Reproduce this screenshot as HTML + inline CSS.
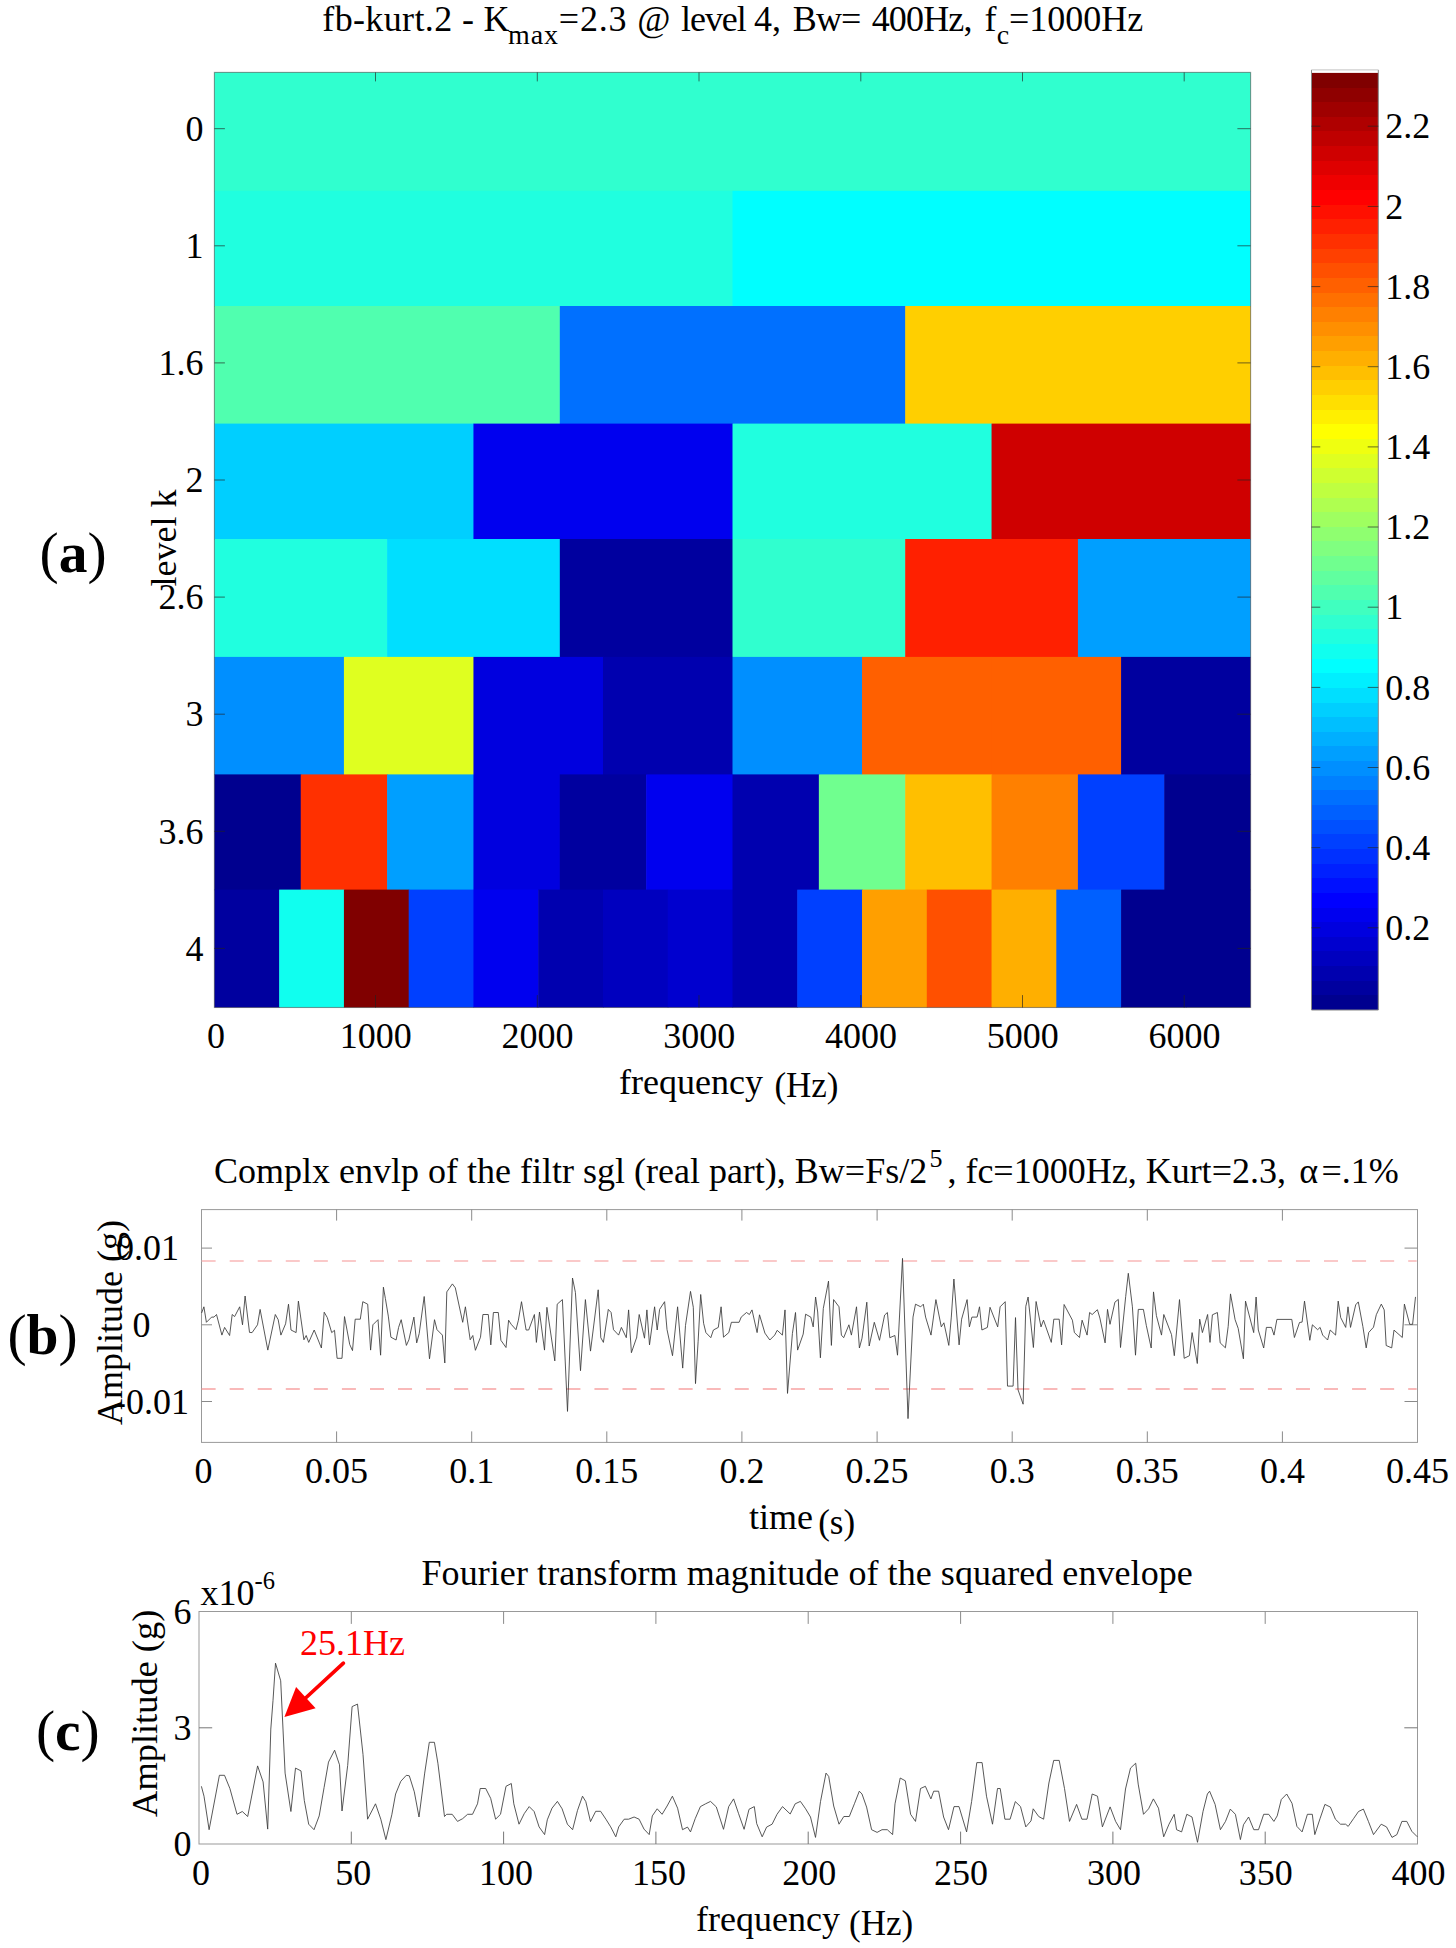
<!DOCTYPE html>
<html><head><meta charset="utf-8"><title>Fast kurtogram</title><style>html,body{margin:0;padding:0;background:#fff;}svg{display:block;}</style></head><body>
<svg width="1456" height="1948" viewBox="0 0 1456 1948" font-family="'Liberation Serif', serif">
<rect x="0" y="0" width="1456" height="1948" fill="#fff"/>
<rect x="214.40" y="72.40" width="1036.20" height="119.00" fill="#30ffcf"/>
<rect x="214.40" y="190.80" width="518.70" height="115.80" fill="#20ffdf"/>
<rect x="732.50" y="190.80" width="518.10" height="115.80" fill="#00ffff"/>
<rect x="214.40" y="306.00" width="346.00" height="118.20" fill="#50ffaf"/>
<rect x="559.80" y="306.00" width="346.00" height="118.20" fill="#0070ff"/>
<rect x="905.20" y="306.00" width="345.40" height="118.20" fill="#ffcf00"/>
<rect x="214.40" y="423.60" width="259.65" height="116.00" fill="#00cfff"/>
<rect x="473.45" y="423.60" width="259.65" height="116.00" fill="#0000ef"/>
<rect x="732.50" y="423.60" width="259.65" height="116.00" fill="#20ffdf"/>
<rect x="991.55" y="423.60" width="259.05" height="116.00" fill="#cf0000"/>
<rect x="214.40" y="539.00" width="173.30" height="118.50" fill="#20ffdf"/>
<rect x="387.10" y="539.00" width="173.30" height="118.50" fill="#00dfff"/>
<rect x="559.80" y="539.00" width="173.30" height="118.50" fill="#00009f"/>
<rect x="732.50" y="539.00" width="173.30" height="118.50" fill="#30ffcf"/>
<rect x="905.20" y="539.00" width="173.30" height="118.50" fill="#ff2000"/>
<rect x="1077.90" y="539.00" width="172.70" height="118.50" fill="#009fff"/>
<rect x="214.40" y="656.90" width="130.12" height="118.10" fill="#008fff"/>
<rect x="343.92" y="656.90" width="130.12" height="118.10" fill="#dfff20"/>
<rect x="473.45" y="656.90" width="130.12" height="118.10" fill="#0000df"/>
<rect x="602.97" y="656.90" width="130.12" height="118.10" fill="#0000af"/>
<rect x="732.50" y="656.90" width="130.12" height="118.10" fill="#008fff"/>
<rect x="862.02" y="656.90" width="130.12" height="118.10" fill="#ff6000"/>
<rect x="991.55" y="656.90" width="130.12" height="118.10" fill="#ff6000"/>
<rect x="1121.07" y="656.90" width="129.53" height="118.10" fill="#00009f"/>
<rect x="214.40" y="774.40" width="86.95" height="115.80" fill="#00008f"/>
<rect x="300.75" y="774.40" width="86.95" height="115.80" fill="#ff3000"/>
<rect x="387.10" y="774.40" width="86.95" height="115.80" fill="#009fff"/>
<rect x="473.45" y="774.40" width="86.95" height="115.80" fill="#0000df"/>
<rect x="559.80" y="774.40" width="86.95" height="115.80" fill="#00009f"/>
<rect x="646.15" y="774.40" width="86.95" height="115.80" fill="#0000ef"/>
<rect x="732.50" y="774.40" width="86.95" height="115.80" fill="#0000af"/>
<rect x="818.85" y="774.40" width="86.95" height="115.80" fill="#70ff8f"/>
<rect x="905.20" y="774.40" width="86.95" height="115.80" fill="#ffbf00"/>
<rect x="991.55" y="774.40" width="86.95" height="115.80" fill="#ff8000"/>
<rect x="1077.90" y="774.40" width="86.95" height="115.80" fill="#0040ff"/>
<rect x="1164.25" y="774.40" width="86.35" height="115.80" fill="#00008f"/>
<rect x="214.40" y="889.60" width="65.36" height="117.90" fill="#00009f"/>
<rect x="279.16" y="889.60" width="65.36" height="117.90" fill="#10ffef"/>
<rect x="343.92" y="889.60" width="65.36" height="117.90" fill="#800000"/>
<rect x="408.69" y="889.60" width="65.36" height="117.90" fill="#0040ff"/>
<rect x="473.45" y="889.60" width="65.36" height="117.90" fill="#0000ef"/>
<rect x="538.21" y="889.60" width="65.36" height="117.90" fill="#0000af"/>
<rect x="602.97" y="889.60" width="65.36" height="117.90" fill="#0000bf"/>
<rect x="667.74" y="889.60" width="65.36" height="117.90" fill="#0000cf"/>
<rect x="732.50" y="889.60" width="65.36" height="117.90" fill="#0000af"/>
<rect x="797.26" y="889.60" width="65.36" height="117.90" fill="#0040ff"/>
<rect x="862.02" y="889.60" width="65.36" height="117.90" fill="#ff9f00"/>
<rect x="926.79" y="889.60" width="65.36" height="117.90" fill="#ff5000"/>
<rect x="991.55" y="889.60" width="65.36" height="117.90" fill="#ffaf00"/>
<rect x="1056.31" y="889.60" width="65.36" height="117.90" fill="#0060ff"/>
<rect x="1121.07" y="889.60" width="65.36" height="117.90" fill="#00008f"/>
<rect x="1185.84" y="889.60" width="64.76" height="117.90" fill="#00008f"/>
<rect x="214.4" y="72.4" width="1036.2" height="935.1" fill="none" stroke="#333" stroke-opacity="0.5" stroke-width="1.1"/>
<line x1="214.4" y1="128.7" x2="224.9" y2="128.7" stroke="#222" stroke-opacity="0.65" stroke-width="1"/>
<line x1="1250.6" y1="128.7" x2="1237.3999999999999" y2="128.7" stroke="#222" stroke-opacity="0.65" stroke-width="1"/>
<text x="203.5" y="140.9" font-size="36" text-anchor="end">0</text>
<line x1="214.4" y1="245.8" x2="224.9" y2="245.8" stroke="#222" stroke-opacity="0.65" stroke-width="1"/>
<line x1="1250.6" y1="245.8" x2="1237.3999999999999" y2="245.8" stroke="#222" stroke-opacity="0.65" stroke-width="1"/>
<text x="203.5" y="258.0" font-size="36" text-anchor="end">1</text>
<line x1="214.4" y1="362.9" x2="224.9" y2="362.9" stroke="#222" stroke-opacity="0.65" stroke-width="1"/>
<line x1="1250.6" y1="362.9" x2="1237.3999999999999" y2="362.9" stroke="#222" stroke-opacity="0.65" stroke-width="1"/>
<text x="203.5" y="375.1" font-size="36" text-anchor="end">1.6</text>
<line x1="214.4" y1="480.0" x2="224.9" y2="480.0" stroke="#222" stroke-opacity="0.65" stroke-width="1"/>
<line x1="1250.6" y1="480.0" x2="1237.3999999999999" y2="480.0" stroke="#222" stroke-opacity="0.65" stroke-width="1"/>
<text x="203.5" y="492.2" font-size="36" text-anchor="end">2</text>
<line x1="214.4" y1="597.1" x2="224.9" y2="597.1" stroke="#222" stroke-opacity="0.65" stroke-width="1"/>
<line x1="1250.6" y1="597.1" x2="1237.3999999999999" y2="597.1" stroke="#222" stroke-opacity="0.65" stroke-width="1"/>
<text x="203.5" y="609.3" font-size="36" text-anchor="end">2.6</text>
<line x1="214.4" y1="714.2" x2="224.9" y2="714.2" stroke="#222" stroke-opacity="0.65" stroke-width="1"/>
<line x1="1250.6" y1="714.2" x2="1237.3999999999999" y2="714.2" stroke="#222" stroke-opacity="0.65" stroke-width="1"/>
<text x="203.5" y="726.4" font-size="36" text-anchor="end">3</text>
<line x1="214.4" y1="831.3" x2="224.9" y2="831.3" stroke="#222" stroke-opacity="0.65" stroke-width="1"/>
<line x1="1250.6" y1="831.3" x2="1237.3999999999999" y2="831.3" stroke="#222" stroke-opacity="0.65" stroke-width="1"/>
<text x="203.5" y="843.5" font-size="36" text-anchor="end">3.6</text>
<line x1="214.4" y1="948.4" x2="224.9" y2="948.4" stroke="#222" stroke-opacity="0.65" stroke-width="1"/>
<line x1="1250.6" y1="948.4" x2="1237.3999999999999" y2="948.4" stroke="#222" stroke-opacity="0.65" stroke-width="1"/>
<text x="203.5" y="960.6" font-size="36" text-anchor="end">4</text>
<text x="215.9" y="1047.5" font-size="36" text-anchor="middle">0</text>
<line x1="375.5" y1="72.4" x2="375.5" y2="81.4" stroke="#222" stroke-opacity="0.65" stroke-width="1"/>
<line x1="375.5" y1="1007.5" x2="375.5" y2="995.1" stroke="#222" stroke-opacity="0.65" stroke-width="1"/>
<text x="375.8" y="1047.5" font-size="36" text-anchor="middle">1000</text>
<line x1="537.3" y1="72.4" x2="537.3" y2="81.4" stroke="#222" stroke-opacity="0.65" stroke-width="1"/>
<line x1="537.3" y1="1007.5" x2="537.3" y2="995.1" stroke="#222" stroke-opacity="0.65" stroke-width="1"/>
<text x="537.6" y="1047.5" font-size="36" text-anchor="middle">2000</text>
<line x1="699.0" y1="72.4" x2="699.0" y2="81.4" stroke="#222" stroke-opacity="0.65" stroke-width="1"/>
<line x1="699.0" y1="1007.5" x2="699.0" y2="995.1" stroke="#222" stroke-opacity="0.65" stroke-width="1"/>
<text x="699.3" y="1047.5" font-size="36" text-anchor="middle">3000</text>
<line x1="860.8" y1="72.4" x2="860.8" y2="81.4" stroke="#222" stroke-opacity="0.65" stroke-width="1"/>
<line x1="860.8" y1="1007.5" x2="860.8" y2="995.1" stroke="#222" stroke-opacity="0.65" stroke-width="1"/>
<text x="861.1" y="1047.5" font-size="36" text-anchor="middle">4000</text>
<line x1="1022.5" y1="72.4" x2="1022.5" y2="81.4" stroke="#222" stroke-opacity="0.65" stroke-width="1"/>
<line x1="1022.5" y1="1007.5" x2="1022.5" y2="995.1" stroke="#222" stroke-opacity="0.65" stroke-width="1"/>
<text x="1022.8" y="1047.5" font-size="36" text-anchor="middle">5000</text>
<line x1="1184.2" y1="72.4" x2="1184.2" y2="81.4" stroke="#222" stroke-opacity="0.65" stroke-width="1"/>
<line x1="1184.2" y1="1007.5" x2="1184.2" y2="995.1" stroke="#222" stroke-opacity="0.65" stroke-width="1"/>
<text x="1184.5" y="1047.5" font-size="36" text-anchor="middle">6000</text>
<text x="619" y="1093.8" font-size="36">frequency</text><text x="774.4" y="1096.8" font-size="35">(Hz)</text>
<text transform="translate(176.4,538) rotate(-90)" font-size="36" text-anchor="middle">level k</text>
<text x="322.3" y="30.8" font-size="36" textLength="187.3" lengthAdjust="spacing">fb-kurt.2 - K</text>
<text x="508.1" y="44" font-size="28" textLength="50" lengthAdjust="spacing">max</text>
<text x="558.8" y="30.8" font-size="36" textLength="111.5" lengthAdjust="spacing">=2.3 @</text>
<text x="681" y="30.8" font-size="36" textLength="65.8" lengthAdjust="spacing">level</text>
<text x="753.9" y="30.8" font-size="36">4,</text>
<text x="792.8" y="30.8" font-size="36" textLength="68.5" lengthAdjust="spacing">Bw=</text>
<text x="871.7" y="30.8" font-size="36" textLength="100.8" lengthAdjust="spacing">400Hz,</text>
<text x="984.4" y="30.8" font-size="36">f</text>
<text x="996.8" y="44" font-size="28">c</text>
<text x="1008.9" y="30.8" font-size="36">=1000Hz</text>
<text x="39.5" y="572.2" font-size="57.5"><tspan>(</tspan><tspan font-weight="bold">a</tspan><tspan>)</tspan></text>
<defs><linearGradient id="cbar" x1="0" y1="0" x2="0" y2="1"><stop offset="0.0000%" stop-color="#800000"/><stop offset="1.5625%" stop-color="#800000"/><stop offset="1.5625%" stop-color="#8f0000"/><stop offset="3.1250%" stop-color="#8f0000"/><stop offset="3.1250%" stop-color="#9f0000"/><stop offset="4.6875%" stop-color="#9f0000"/><stop offset="4.6875%" stop-color="#af0000"/><stop offset="6.2500%" stop-color="#af0000"/><stop offset="6.2500%" stop-color="#bf0000"/><stop offset="7.8125%" stop-color="#bf0000"/><stop offset="7.8125%" stop-color="#cf0000"/><stop offset="9.3750%" stop-color="#cf0000"/><stop offset="9.3750%" stop-color="#df0000"/><stop offset="10.9375%" stop-color="#df0000"/><stop offset="10.9375%" stop-color="#ef0000"/><stop offset="12.5000%" stop-color="#ef0000"/><stop offset="12.5000%" stop-color="#ff0000"/><stop offset="14.0625%" stop-color="#ff0000"/><stop offset="14.0625%" stop-color="#ff1000"/><stop offset="15.6250%" stop-color="#ff1000"/><stop offset="15.6250%" stop-color="#ff2000"/><stop offset="17.1875%" stop-color="#ff2000"/><stop offset="17.1875%" stop-color="#ff3000"/><stop offset="18.7500%" stop-color="#ff3000"/><stop offset="18.7500%" stop-color="#ff4000"/><stop offset="20.3125%" stop-color="#ff4000"/><stop offset="20.3125%" stop-color="#ff5000"/><stop offset="21.8750%" stop-color="#ff5000"/><stop offset="21.8750%" stop-color="#ff6000"/><stop offset="23.4375%" stop-color="#ff6000"/><stop offset="23.4375%" stop-color="#ff7000"/><stop offset="25.0000%" stop-color="#ff7000"/><stop offset="25.0000%" stop-color="#ff8000"/><stop offset="26.5625%" stop-color="#ff8000"/><stop offset="26.5625%" stop-color="#ff8f00"/><stop offset="28.1250%" stop-color="#ff8f00"/><stop offset="28.1250%" stop-color="#ff9f00"/><stop offset="29.6875%" stop-color="#ff9f00"/><stop offset="29.6875%" stop-color="#ffaf00"/><stop offset="31.2500%" stop-color="#ffaf00"/><stop offset="31.2500%" stop-color="#ffbf00"/><stop offset="32.8125%" stop-color="#ffbf00"/><stop offset="32.8125%" stop-color="#ffcf00"/><stop offset="34.3750%" stop-color="#ffcf00"/><stop offset="34.3750%" stop-color="#ffdf00"/><stop offset="35.9375%" stop-color="#ffdf00"/><stop offset="35.9375%" stop-color="#ffef00"/><stop offset="37.5000%" stop-color="#ffef00"/><stop offset="37.5000%" stop-color="#ffff00"/><stop offset="39.0625%" stop-color="#ffff00"/><stop offset="39.0625%" stop-color="#efff10"/><stop offset="40.6250%" stop-color="#efff10"/><stop offset="40.6250%" stop-color="#dfff20"/><stop offset="42.1875%" stop-color="#dfff20"/><stop offset="42.1875%" stop-color="#cfff30"/><stop offset="43.7500%" stop-color="#cfff30"/><stop offset="43.7500%" stop-color="#bfff40"/><stop offset="45.3125%" stop-color="#bfff40"/><stop offset="45.3125%" stop-color="#afff50"/><stop offset="46.8750%" stop-color="#afff50"/><stop offset="46.8750%" stop-color="#9fff60"/><stop offset="48.4375%" stop-color="#9fff60"/><stop offset="48.4375%" stop-color="#8fff70"/><stop offset="50.0000%" stop-color="#8fff70"/><stop offset="50.0000%" stop-color="#80ff80"/><stop offset="51.5625%" stop-color="#80ff80"/><stop offset="51.5625%" stop-color="#70ff8f"/><stop offset="53.1250%" stop-color="#70ff8f"/><stop offset="53.1250%" stop-color="#60ff9f"/><stop offset="54.6875%" stop-color="#60ff9f"/><stop offset="54.6875%" stop-color="#50ffaf"/><stop offset="56.2500%" stop-color="#50ffaf"/><stop offset="56.2500%" stop-color="#40ffbf"/><stop offset="57.8125%" stop-color="#40ffbf"/><stop offset="57.8125%" stop-color="#30ffcf"/><stop offset="59.3750%" stop-color="#30ffcf"/><stop offset="59.3750%" stop-color="#20ffdf"/><stop offset="60.9375%" stop-color="#20ffdf"/><stop offset="60.9375%" stop-color="#10ffef"/><stop offset="62.5000%" stop-color="#10ffef"/><stop offset="62.5000%" stop-color="#00ffff"/><stop offset="64.0625%" stop-color="#00ffff"/><stop offset="64.0625%" stop-color="#00efff"/><stop offset="65.6250%" stop-color="#00efff"/><stop offset="65.6250%" stop-color="#00dfff"/><stop offset="67.1875%" stop-color="#00dfff"/><stop offset="67.1875%" stop-color="#00cfff"/><stop offset="68.7500%" stop-color="#00cfff"/><stop offset="68.7500%" stop-color="#00bfff"/><stop offset="70.3125%" stop-color="#00bfff"/><stop offset="70.3125%" stop-color="#00afff"/><stop offset="71.8750%" stop-color="#00afff"/><stop offset="71.8750%" stop-color="#009fff"/><stop offset="73.4375%" stop-color="#009fff"/><stop offset="73.4375%" stop-color="#008fff"/><stop offset="75.0000%" stop-color="#008fff"/><stop offset="75.0000%" stop-color="#0080ff"/><stop offset="76.5625%" stop-color="#0080ff"/><stop offset="76.5625%" stop-color="#0070ff"/><stop offset="78.1250%" stop-color="#0070ff"/><stop offset="78.1250%" stop-color="#0060ff"/><stop offset="79.6875%" stop-color="#0060ff"/><stop offset="79.6875%" stop-color="#0050ff"/><stop offset="81.2500%" stop-color="#0050ff"/><stop offset="81.2500%" stop-color="#0040ff"/><stop offset="82.8125%" stop-color="#0040ff"/><stop offset="82.8125%" stop-color="#0030ff"/><stop offset="84.3750%" stop-color="#0030ff"/><stop offset="84.3750%" stop-color="#0020ff"/><stop offset="85.9375%" stop-color="#0020ff"/><stop offset="85.9375%" stop-color="#0010ff"/><stop offset="87.5000%" stop-color="#0010ff"/><stop offset="87.5000%" stop-color="#0000ff"/><stop offset="89.0625%" stop-color="#0000ff"/><stop offset="89.0625%" stop-color="#0000ef"/><stop offset="90.6250%" stop-color="#0000ef"/><stop offset="90.6250%" stop-color="#0000df"/><stop offset="92.1875%" stop-color="#0000df"/><stop offset="92.1875%" stop-color="#0000cf"/><stop offset="93.7500%" stop-color="#0000cf"/><stop offset="93.7500%" stop-color="#0000bf"/><stop offset="95.3125%" stop-color="#0000bf"/><stop offset="95.3125%" stop-color="#0000af"/><stop offset="96.8750%" stop-color="#0000af"/><stop offset="96.8750%" stop-color="#00009f"/><stop offset="98.4375%" stop-color="#00009f"/><stop offset="98.4375%" stop-color="#00008f"/><stop offset="100.0000%" stop-color="#00008f"/></linearGradient></defs>
<rect x="1311.5" y="72.90" width="66.8" height="937.10" fill="url(#cbar)"/>
<path d="M1311.5,69.9 V1010.0 H1378.3 V69.9" fill="none" stroke="#888" stroke-width="1"/>
<line x1="1311.5" y1="69.9" x2="1378.3" y2="69.9" stroke="#c4c4c4" stroke-width="1"/>
<line x1="1311.5" y1="927.8" x2="1320.3" y2="927.8" stroke="#222" stroke-opacity="0.65" stroke-width="1"/>
<line x1="1378.3" y1="927.8" x2="1367.7" y2="927.8" stroke="#222" stroke-opacity="0.65" stroke-width="1"/>
<text x="1385.2" y="940.0" font-size="36">0.2</text>
<line x1="1311.5" y1="847.7" x2="1320.3" y2="847.7" stroke="#222" stroke-opacity="0.65" stroke-width="1"/>
<line x1="1378.3" y1="847.7" x2="1367.7" y2="847.7" stroke="#222" stroke-opacity="0.65" stroke-width="1"/>
<text x="1385.2" y="859.9" font-size="36">0.4</text>
<line x1="1311.5" y1="767.5" x2="1320.3" y2="767.5" stroke="#222" stroke-opacity="0.65" stroke-width="1"/>
<line x1="1378.3" y1="767.5" x2="1367.7" y2="767.5" stroke="#222" stroke-opacity="0.65" stroke-width="1"/>
<text x="1385.2" y="779.7" font-size="36">0.6</text>
<line x1="1311.5" y1="687.4" x2="1320.3" y2="687.4" stroke="#222" stroke-opacity="0.65" stroke-width="1"/>
<line x1="1378.3" y1="687.4" x2="1367.7" y2="687.4" stroke="#222" stroke-opacity="0.65" stroke-width="1"/>
<text x="1385.2" y="699.6" font-size="36">0.8</text>
<line x1="1311.5" y1="607.2" x2="1320.3" y2="607.2" stroke="#222" stroke-opacity="0.65" stroke-width="1"/>
<line x1="1378.3" y1="607.2" x2="1367.7" y2="607.2" stroke="#222" stroke-opacity="0.65" stroke-width="1"/>
<text x="1385.2" y="619.4" font-size="36">1</text>
<line x1="1311.5" y1="527.0" x2="1320.3" y2="527.0" stroke="#222" stroke-opacity="0.65" stroke-width="1"/>
<line x1="1378.3" y1="527.0" x2="1367.7" y2="527.0" stroke="#222" stroke-opacity="0.65" stroke-width="1"/>
<text x="1385.2" y="539.2" font-size="36">1.2</text>
<line x1="1311.5" y1="446.9" x2="1320.3" y2="446.9" stroke="#222" stroke-opacity="0.65" stroke-width="1"/>
<line x1="1378.3" y1="446.9" x2="1367.7" y2="446.9" stroke="#222" stroke-opacity="0.65" stroke-width="1"/>
<text x="1385.2" y="459.1" font-size="36">1.4</text>
<line x1="1311.5" y1="366.7" x2="1320.3" y2="366.7" stroke="#222" stroke-opacity="0.65" stroke-width="1"/>
<line x1="1378.3" y1="366.7" x2="1367.7" y2="366.7" stroke="#222" stroke-opacity="0.65" stroke-width="1"/>
<text x="1385.2" y="378.9" font-size="36">1.6</text>
<line x1="1311.5" y1="286.6" x2="1320.3" y2="286.6" stroke="#222" stroke-opacity="0.65" stroke-width="1"/>
<line x1="1378.3" y1="286.6" x2="1367.7" y2="286.6" stroke="#222" stroke-opacity="0.65" stroke-width="1"/>
<text x="1385.2" y="298.8" font-size="36">1.8</text>
<line x1="1311.5" y1="206.4" x2="1320.3" y2="206.4" stroke="#222" stroke-opacity="0.65" stroke-width="1"/>
<line x1="1378.3" y1="206.4" x2="1367.7" y2="206.4" stroke="#222" stroke-opacity="0.65" stroke-width="1"/>
<text x="1385.2" y="218.6" font-size="36">2</text>
<line x1="1311.5" y1="126.2" x2="1320.3" y2="126.2" stroke="#222" stroke-opacity="0.65" stroke-width="1"/>
<line x1="1378.3" y1="126.2" x2="1367.7" y2="126.2" stroke="#222" stroke-opacity="0.65" stroke-width="1"/>
<text x="1385.2" y="138.4" font-size="36">2.2</text>
<rect x="201.5" y="1209.6" width="1216.0" height="232.80000000000018" fill="none" stroke="#999" stroke-width="1"/>
<line x1="336.6" y1="1209.6" x2="336.6" y2="1220.6" stroke="#8a8a8a" stroke-width="1"/>
<line x1="336.6" y1="1442.4" x2="336.6" y2="1431.4" stroke="#8a8a8a" stroke-width="1"/>
<line x1="471.7" y1="1209.6" x2="471.7" y2="1220.6" stroke="#8a8a8a" stroke-width="1"/>
<line x1="471.7" y1="1442.4" x2="471.7" y2="1431.4" stroke="#8a8a8a" stroke-width="1"/>
<line x1="606.8" y1="1209.6" x2="606.8" y2="1220.6" stroke="#8a8a8a" stroke-width="1"/>
<line x1="606.8" y1="1442.4" x2="606.8" y2="1431.4" stroke="#8a8a8a" stroke-width="1"/>
<line x1="741.9" y1="1209.6" x2="741.9" y2="1220.6" stroke="#8a8a8a" stroke-width="1"/>
<line x1="741.9" y1="1442.4" x2="741.9" y2="1431.4" stroke="#8a8a8a" stroke-width="1"/>
<line x1="877.1" y1="1209.6" x2="877.1" y2="1220.6" stroke="#8a8a8a" stroke-width="1"/>
<line x1="877.1" y1="1442.4" x2="877.1" y2="1431.4" stroke="#8a8a8a" stroke-width="1"/>
<line x1="1012.2" y1="1209.6" x2="1012.2" y2="1220.6" stroke="#8a8a8a" stroke-width="1"/>
<line x1="1012.2" y1="1442.4" x2="1012.2" y2="1431.4" stroke="#8a8a8a" stroke-width="1"/>
<line x1="1147.3" y1="1209.6" x2="1147.3" y2="1220.6" stroke="#8a8a8a" stroke-width="1"/>
<line x1="1147.3" y1="1442.4" x2="1147.3" y2="1431.4" stroke="#8a8a8a" stroke-width="1"/>
<line x1="1282.4" y1="1209.6" x2="1282.4" y2="1220.6" stroke="#8a8a8a" stroke-width="1"/>
<line x1="1282.4" y1="1442.4" x2="1282.4" y2="1431.4" stroke="#8a8a8a" stroke-width="1"/>
<line x1="201.5" y1="1248.1" x2="212.0" y2="1248.1" stroke="#8a8a8a" stroke-width="1"/>
<line x1="1417.5" y1="1248.1" x2="1404.5" y2="1248.1" stroke="#8a8a8a" stroke-width="1"/>
<line x1="201.5" y1="1324.8" x2="212.0" y2="1324.8" stroke="#8a8a8a" stroke-width="1"/>
<line x1="1417.5" y1="1324.8" x2="1404.5" y2="1324.8" stroke="#8a8a8a" stroke-width="1"/>
<line x1="201.5" y1="1401.5" x2="212.0" y2="1401.5" stroke="#8a8a8a" stroke-width="1"/>
<line x1="1417.5" y1="1401.5" x2="1404.5" y2="1401.5" stroke="#8a8a8a" stroke-width="1"/>
<line x1="201.6" y1="1261.0" x2="1416.7" y2="1261.0" stroke="#f9b8b8" stroke-width="1.3" stroke-dasharray="14.03 14.03"/>
<line x1="201.6" y1="1389.0" x2="1416.7" y2="1389.0" stroke="#f7a2a2" stroke-width="1.3" stroke-dasharray="14.03 14.03"/>
<text x="203.5" y="1483" font-size="36" text-anchor="middle">0</text>
<text x="336.6" y="1483" font-size="36" text-anchor="middle">0.05</text>
<text x="471.7" y="1483" font-size="36" text-anchor="middle">0.1</text>
<text x="606.8" y="1483" font-size="36" text-anchor="middle">0.15</text>
<text x="741.9" y="1483" font-size="36" text-anchor="middle">0.2</text>
<text x="877.1" y="1483" font-size="36" text-anchor="middle">0.25</text>
<text x="1012.2" y="1483" font-size="36" text-anchor="middle">0.3</text>
<text x="1147.3" y="1483" font-size="36" text-anchor="middle">0.35</text>
<text x="1282.4" y="1483" font-size="36" text-anchor="middle">0.4</text>
<text x="1417.5" y="1483" font-size="36" text-anchor="middle">0.45</text>
<text x="179" y="1260.2" font-size="36" text-anchor="end">0.01</text>
<text x="150.5" y="1337" font-size="36" text-anchor="end">0</text>
<text x="189" y="1413.8" font-size="36" text-anchor="end">-0.01</text>
<text transform="translate(122,1322.4) rotate(-90)" font-size="36" text-anchor="middle">Amplitude (g)</text>
<text x="749" y="1528.9" font-size="36">time</text><text x="818.2" y="1533.8" font-size="35">(s)</text>
<text y="1182.6" font-size="36"><tspan x="214">Complx envlp of the filtr sgl (real part), Bw=Fs/2</tspan><tspan x="929.6" font-size="26" dy="-15.3">5</tspan><tspan x="947.4" dy="15.3">, fc=1000Hz, Kurt=2.3,</tspan><tspan x="1299.2">α</tspan><tspan x="1321.5">=.1%</tspan></text>
<text x="7.4" y="1353.9" font-size="57.5"><tspan>(</tspan><tspan font-weight="bold">b</tspan><tspan>)</tspan></text>
<polyline points="201.6,1313.0 203.9,1306.8 206.4,1322.3 211.6,1317.1 214.0,1317.1 216.5,1314.5 221.9,1335.1 224.6,1327.4 229.6,1335.5 232.2,1314.5 234.6,1316.6 239.7,1306.8 242.5,1324.8 245.1,1296.0 249.5,1332.4 252.1,1332.6 257.5,1324.8 260.1,1309.4 267.8,1350.1 275.3,1314.5 278.2,1319.7 280.9,1335.1 285.6,1323.8 288.5,1304.2 291.0,1330.0 296.1,1332.6 298.4,1301.1 303.9,1339.8 306.2,1335.5 308.7,1342.4 314.2,1330.0 321.4,1348.0 324.2,1312.2 327.3,1317.6 331.7,1332.6 334.5,1330.3 337.1,1358.3 342.0,1358.3 344.5,1316.6 349.7,1344.4 352.5,1350.6 355.2,1319.2 360.3,1319.2 362.8,1301.7 367.7,1304.2 370.6,1350.1 372.9,1324.8 378.0,1319.7 380.6,1355.2 383.4,1287.2 385.4,1298.6 388.3,1316.1 390.9,1337.2 396.1,1340.0 398.6,1327.4 401.2,1319.7 406.4,1345.4 408.9,1339.8 413.9,1317.1 416.7,1342.9 419.2,1333.6 424.2,1296.5 429.5,1358.8 434.5,1319.7 437.0,1329.7 442.4,1335.1 444.8,1363.0 446.8,1291.9 452.4,1283.9 455.3,1287.8 462.7,1322.3 465.4,1306.8 470.2,1339.8 472.8,1335.5 475.4,1350.3 480.5,1337.2 482.9,1314.5 488.3,1314.5 490.8,1344.9 493.4,1312.5 498.3,1312.5 500.9,1340.3 506.0,1347.5 508.6,1320.2 511.2,1324.3 516.0,1329.7 518.4,1320.2 521.5,1301.7 526.1,1330.0 528.7,1330.0 534.4,1314.5 536.4,1342.4 539.5,1312.0 544.5,1350.1 546.9,1307.3 554.8,1360.9 557.2,1304.2 562.4,1299.6 567.5,1411.4 572.5,1278.0 575.4,1292.4 580.5,1370.7 585.4,1299.6 590.5,1351.1 598.2,1289.8 600.8,1337.7 603.4,1342.4 608.3,1309.4 611.1,1312.5 613.5,1329.7 618.6,1335.1 621.4,1327.4 626.3,1337.7 628.6,1309.9 631.4,1352.7 636.4,1338.2 636.6,1338.2 639.2,1314.5 644.5,1338.2 646.9,1309.9 649.5,1344.9 654.6,1306.8 657.2,1330.0 659.6,1309.4 664.6,1301.7 667.0,1329.5 672.5,1355.7 677.6,1306.8 682.7,1368.1 685.5,1325.4 690.5,1291.4 693.3,1307.3 695.5,1383.6 698.1,1341.8 700.7,1294.5 703.6,1323.3 705.9,1332.6 710.8,1337.7 713.4,1330.0 718.3,1327.4 721.1,1306.8 723.5,1337.2 728.8,1332.6 731.4,1322.3 739.1,1322.3 741.2,1317.1 746.5,1312.5 749.4,1314.5 752.0,1309.9 757.1,1332.6 759.5,1314.8 764.9,1333.1 769.8,1340.0 774.7,1335.1 777.2,1330.3 782.4,1335.1 785.0,1309.9 787.5,1393.4 792.4,1333.6 795.5,1312.5 797.6,1350.1 803.2,1334.1 805.6,1314.2 810.8,1317.1 813.2,1326.9 815.6,1297.0 817.7,1312.0 820.4,1357.8 823.3,1308.4 828.5,1281.1 831.4,1345.4 833.6,1299.6 839.0,1306.8 841.4,1335.1 843.7,1337.7 848.9,1324.8 851.4,1335.1 856.5,1306.8 859.4,1348.0 862.0,1338.2 866.8,1302.2 869.2,1346.0 874.3,1322.3 879.5,1340.3 884.6,1315.1 887.4,1312.5 889.8,1337.7 894.9,1335.5 897.5,1355.2 902.5,1258.4 908.0,1418.6 913.0,1317.1 915.5,1304.2 920.7,1306.8 923.3,1304.2 925.6,1317.1 931.0,1335.1 935.9,1299.6 941.3,1326.9 943.9,1322.8 948.8,1345.4 951.3,1317.1 953.9,1279.0 956.5,1312.0 959.1,1344.9 961.6,1319.2 967.1,1299.6 969.4,1326.9 971.9,1317.1 977.1,1317.1 979.5,1306.8 981.9,1330.0 987.4,1327.4 990.0,1307.3 997.7,1326.9 1000.1,1306.8 1005.2,1301.7 1007.5,1386.1 1013.1,1386.1 1015.5,1317.6 1018.0,1389.7 1023.1,1404.2 1025.8,1306.3 1028.1,1297.0 1033.4,1347.5 1036.1,1301.5 1041.0,1326.9 1043.5,1320.2 1051.3,1342.4 1053.8,1319.2 1059.2,1319.2 1061.6,1344.9 1064.1,1304.5 1072.4,1320.2 1074.4,1332.6 1079.5,1337.5 1082.1,1320.2 1087.1,1335.1 1089.6,1312.5 1092.2,1314.5 1097.4,1309.7 1099.9,1318.1 1105.1,1342.9 1107.5,1309.4 1110.0,1324.3 1114.9,1302.2 1118.3,1299.4 1120.5,1347.5 1125.7,1296.5 1128.3,1273.3 1132.4,1306.8 1135.5,1355.2 1138.3,1309.4 1143.4,1309.4 1146.3,1325.4 1151.2,1348.0 1153.5,1291.9 1156.4,1315.6 1161.5,1335.1 1163.8,1314.5 1171.5,1334.6 1174.3,1355.7 1179.5,1299.6 1184.2,1358.3 1189.4,1355.7 1192.1,1332.6 1197.3,1363.5 1199.7,1319.2 1202.4,1332.6 1207.6,1314.5 1210.0,1342.4 1212.4,1314.8 1217.4,1312.5 1220.2,1342.9 1225.4,1347.8 1228.2,1326.4 1230.5,1293.9 1235.1,1319.7 1238.2,1328.4 1243.4,1358.8 1245.5,1301.1 1253.7,1332.6 1256.1,1297.0 1258.3,1330.0 1263.7,1348.0 1266.4,1327.4 1271.5,1327.4 1274.0,1335.1 1276.9,1319.4 1291.8,1319.4 1294.4,1337.5 1299.5,1322.5 1302.1,1322.1 1304.5,1301.1 1309.8,1340.3 1312.4,1324.8 1317.6,1329.7 1320.1,1327.4 1322.7,1335.1 1327.6,1340.0 1330.2,1330.0 1335.6,1335.1 1338.2,1301.1 1340.7,1317.6 1345.7,1327.4 1348.0,1306.8 1350.5,1327.4 1355.7,1304.8 1358.3,1301.9 1362.9,1326.7 1366.2,1347.9 1368.7,1332.5 1373.5,1327.2 1376.3,1314.7 1381.3,1304.1 1384.2,1309.9 1386.2,1345.5 1391.7,1347.9 1394.0,1330.1 1402.3,1337.5 1404.4,1304.1 1409.7,1324.3 1412.6,1324.3 1415.5,1296.9" fill="none" stroke="#3a3a3a" stroke-width="0.85" stroke-linejoin="round"/>
<rect x="199.0" y="1611.5" width="1218.5" height="232.5" fill="none" stroke="#999" stroke-width="1"/>
<line x1="351.3" y1="1611.5" x2="351.3" y2="1623.9" stroke="#8a8a8a" stroke-width="1"/>
<line x1="351.3" y1="1844.0" x2="351.3" y2="1831.6" stroke="#777" stroke-width="1"/>
<line x1="503.6" y1="1611.5" x2="503.6" y2="1623.9" stroke="#8a8a8a" stroke-width="1"/>
<line x1="503.6" y1="1844.0" x2="503.6" y2="1831.6" stroke="#777" stroke-width="1"/>
<line x1="655.9" y1="1611.5" x2="655.9" y2="1623.9" stroke="#8a8a8a" stroke-width="1"/>
<line x1="655.9" y1="1844.0" x2="655.9" y2="1831.6" stroke="#777" stroke-width="1"/>
<line x1="808.2" y1="1611.5" x2="808.2" y2="1623.9" stroke="#8a8a8a" stroke-width="1"/>
<line x1="808.2" y1="1844.0" x2="808.2" y2="1831.6" stroke="#777" stroke-width="1"/>
<line x1="960.6" y1="1611.5" x2="960.6" y2="1623.9" stroke="#8a8a8a" stroke-width="1"/>
<line x1="960.6" y1="1844.0" x2="960.6" y2="1831.6" stroke="#777" stroke-width="1"/>
<line x1="1112.9" y1="1611.5" x2="1112.9" y2="1623.9" stroke="#8a8a8a" stroke-width="1"/>
<line x1="1112.9" y1="1844.0" x2="1112.9" y2="1831.6" stroke="#777" stroke-width="1"/>
<line x1="1265.2" y1="1611.5" x2="1265.2" y2="1623.9" stroke="#8a8a8a" stroke-width="1"/>
<line x1="1265.2" y1="1844.0" x2="1265.2" y2="1831.6" stroke="#777" stroke-width="1"/>
<line x1="199.0" y1="1727.8" x2="212.2" y2="1727.8" stroke="#777" stroke-width="1"/>
<line x1="1417.5" y1="1727.8" x2="1404.3" y2="1727.8" stroke="#777" stroke-width="1"/>
<text x="201.0" y="1884.7" font-size="36" text-anchor="middle">0</text>
<text x="353.3" y="1884.7" font-size="36" text-anchor="middle">50</text>
<text x="506.1" y="1884.7" font-size="36" text-anchor="middle">100</text>
<text x="658.9" y="1884.7" font-size="36" text-anchor="middle">150</text>
<text x="809.2" y="1884.7" font-size="36" text-anchor="middle">200</text>
<text x="961.1" y="1884.7" font-size="36" text-anchor="middle">250</text>
<text x="1113.9" y="1884.7" font-size="36" text-anchor="middle">300</text>
<text x="1265.7" y="1884.7" font-size="36" text-anchor="middle">350</text>
<text x="1418.5" y="1884.7" font-size="36" text-anchor="middle">400</text>
<text x="191.5" y="1856.0" font-size="36" text-anchor="end">0</text>
<text x="191.5" y="1739.8" font-size="36" text-anchor="end">3</text>
<text x="191.5" y="1623.5" font-size="36" text-anchor="end">6</text>
<text x="200.5" y="1605" font-size="36">x10<tspan font-size="24.5" dy="-16.4">-6</tspan></text>
<text transform="translate(157.2,1713.3) rotate(-90)" font-size="36.4" text-anchor="middle">Amplitude (g)</text>
<text x="696" y="1930.7" font-size="36">frequency</text><text x="849.1" y="1934.8" font-size="35">(Hz)</text>
<text x="421.5" y="1585" font-size="36" textLength="771.3" lengthAdjust="spacing">Fourier transform magnitude of the squared envelope</text>
<text x="35.9" y="1750" font-size="57.5"><tspan>(</tspan><tspan font-weight="bold">c</tspan><tspan>)</tspan></text>
<polyline points="201.4,1786.3 204.0,1796.2 209.1,1829.7 219.4,1775.3 224.5,1775.3 229.9,1788.5 237.0,1814.3 242.3,1811.5 247.7,1816.5 257.6,1765.9 263.1,1781.9 267.7,1829.1 270.8,1729.1 273.0,1700.5 275.5,1663.2 280.7,1680.8 285.1,1773.1 290.9,1811.5 295.5,1768.1 301.0,1770.9 304.3,1800.5 308.7,1824.2 314.0,1829.7 319.2,1815.9 324.1,1787.4 328.5,1762.1 334.6,1750.2 339.5,1764.8 342.0,1811.0 347.7,1765.4 352.1,1706.6 357.5,1704.1 363.0,1754.4 367.6,1819.2 375.5,1803.8 380.8,1819.2 385.9,1839.6 391.8,1814.8 395.6,1794.0 400.8,1781.3 406.3,1775.3 409.3,1775.8 414.3,1791.8 419.0,1817.0 424.7,1773.1 429.3,1742.3 434.4,1742.3 437.9,1763.2 444.5,1816.5 446.7,1814.3 452.2,1814.3 457.5,1821.4 462.6,1818.7 467.6,1814.3 472.5,1814.3 477.5,1803.8 480.2,1788.5 485.7,1788.5 490.7,1798.4 495.6,1819.2 500.5,1814.3 506.0,1786.3 511.3,1783.5 513.8,1803.8 519.0,1824.2 524.2,1813.7 529.2,1806.6 534.1,1811.5 539.1,1826.9 544.6,1834.6 547.3,1819.8 552.0,1808.2 557.4,1801.4 562.1,1808.8 567.4,1824.2 572.6,1829.7 577.5,1810.4 582.5,1796.2 585.8,1801.6 590.5,1821.6 595.7,1811.3 600.6,1811.3 605.9,1819.2 610.7,1826.9 615.8,1836.8 618.7,1826.9 624.2,1819.2 628.6,1819.2 634.1,1817.0 639.1,1819.2 644.0,1829.1 649.2,1834.6 652.3,1815.9 657.2,1808.8 662.1,1814.3 667.1,1806.0 672.4,1796.2 677.6,1808.2 682.5,1829.7 687.5,1827.1 690.5,1831.9 695.2,1818.7 700.4,1806.6 705.6,1803.8 710.5,1801.4 716.3,1806.9 723.5,1829.3 728.7,1806.6 733.6,1798.9 738.6,1813.7 744.1,1829.3 749.0,1809.3 754.3,1806.6 756.7,1823.6 762.2,1836.8 766.6,1827.1 772.1,1824.2 777.0,1814.3 782.5,1806.6 790.2,1814.0 795.2,1803.8 800.4,1801.4 805.6,1808.8 810.5,1817.0 815.5,1837.4 820.5,1801.6 826.0,1773.1 828.7,1776.4 833.7,1806.0 839.0,1824.2 843.8,1816.5 849.3,1816.5 854.6,1803.3 859.3,1791.2 862.0,1794.0 866.6,1807.1 871.6,1829.7 877.1,1832.4 882.0,1829.7 887.3,1829.7 892.6,1834.6 895.0,1803.8 900.2,1778.0 905.3,1780.8 910.6,1814.3 915.5,1821.4 920.5,1788.5 925.4,1786.3 930.9,1798.9 933.7,1791.2 938.6,1791.2 943.6,1817.0 948.5,1829.7 954.0,1806.6 959.0,1806.6 966.6,1831.9 971.6,1801.6 976.8,1762.6 982.1,1762.6 986.5,1796.2 992.5,1824.2 997.5,1788.5 1000.2,1788.5 1004.9,1819.2 1010.1,1819.2 1015.3,1801.6 1020.5,1806.6 1025.8,1826.9 1031.0,1820.9 1033.2,1808.8 1038.7,1816.5 1043.6,1819.2 1048.9,1783.0 1053.7,1760.4 1059.2,1760.4 1064.5,1788.5 1069.5,1821.4 1076.6,1804.4 1081.9,1819.2 1087.0,1819.2 1092.2,1794.0 1097.5,1796.2 1102.4,1826.9 1110.1,1806.9 1115.6,1821.4 1120.5,1829.7 1125.5,1789.0 1130.5,1768.1 1135.7,1763.2 1138.2,1784.1 1143.5,1814.3 1148.6,1808.8 1153.4,1798.9 1158.5,1808.2 1163.7,1836.8 1169.0,1824.2 1174.2,1814.3 1176.6,1829.7 1181.6,1831.9 1186.8,1814.3 1192.0,1817.0 1197.5,1842.3 1203.0,1811.5 1207.4,1794.0 1209.6,1791.2 1215.1,1804.4 1220.4,1829.7 1225.5,1821.4 1230.3,1809.1 1235.4,1814.3 1240.4,1839.6 1243.5,1824.7 1248.6,1817.0 1253.8,1829.7 1258.5,1829.7 1263.7,1814.3 1268.7,1814.3 1273.9,1821.4 1277.2,1815.9 1281.3,1799.5 1286.7,1794.0 1292.0,1803.3 1296.9,1826.4 1302.1,1831.9 1307.4,1814.3 1312.3,1814.3 1314.8,1834.6 1320.0,1818.7 1324.9,1804.4 1330.4,1807.1 1335.4,1819.2 1340.5,1824.2 1345.6,1824.2 1348.2,1826.4 1353.5,1818.7 1358.5,1811.5 1363.4,1809.1 1368.4,1821.4 1373.5,1834.6 1381.2,1824.2 1386.5,1826.9 1392.0,1837.4 1396.9,1834.6 1401.9,1821.4 1406.8,1821.4 1411.8,1831.3 1417.3,1836.8" fill="none" stroke="#3a3a3a" stroke-width="0.85" stroke-linejoin="round"/>
<line x1="343.4" y1="1663.2" x2="304" y2="1699.5" stroke="#f00" stroke-width="3.7" stroke-linecap="round"/>
<polygon points="284.4,1716.9 296.1,1687.0 315.6,1708.3" fill="#f00"/>
<text x="300" y="1655" font-size="36" fill="#f00">25.1Hz</text>
</svg>
</body></html>
